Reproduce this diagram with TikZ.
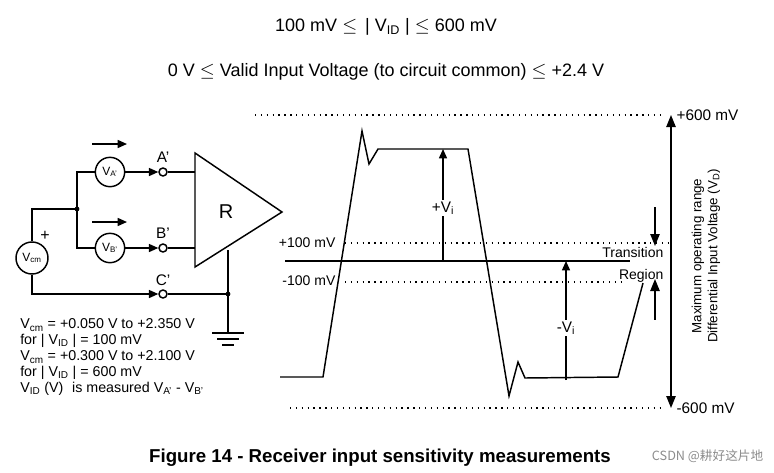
\documentclass[tikz,border=0pt]{standalone}
\usepackage{fontspec}
\setmainfont{Liberation Sans}
\newfontfamily\cjkf{Noto Sans CJK SC}
\usetikzlibrary{arrows.meta}
\begin{document}
\begin{tikzpicture}[x=0.75pt,y=-0.75pt,
  wire/.style={line width=1.1pt},
  dots/.style={line width=1.1pt,dash pattern=on 1pt off 3.4pt},
  tip/.style={-{Triangle[length=7pt,width=6pt]}},
  meter/.style={circle,draw,line width=1.1pt,minimum size=22pt,inner sep=0pt,font=\fontsize{9}{10}\selectfont},
  term/.style={circle,draw,line width=1.1pt,minimum size=6pt,inner sep=0pt},
  lbl/.style={font=\fontsize{10.5}{12}\selectfont,inner sep=1pt},
  txt/.style={font=\fontsize{10.7}{12}\selectfont,inner sep=0pt}]
\useasboundingbox (0,0) rectangle (774,472);
% top texts
\node[font=\fontsize{13.5}{15}\selectfont] (t1) at (386,27) {100 mV $\le$ \,| V\textsubscript{ID} | $\le$ 600 mV};
\node[font=\fontsize{13.5}{15}\selectfont] (t2) at (386,72) {0 V $\le$ Valid Input Voltage (to circuit common) $\le$ +2.4 V};
\node[font=\bfseries\fontsize{14}{16}\selectfont] (cap) at (380,458) {Figure 14 - Receiver input sensitivity measurements};
\node[font=\cjkf\fontsize{9.5}{11}\selectfont,text=black!45,anchor=east] (wm) at (768,456) {CSDN @耕好这片地};
% circuit
\node[meter] (va) at (110,172) {V\textsubscript{A'}};
\node[meter] (vb) at (110,248) {V\textsubscript{B'}};
\node[meter,minimum size=24pt] (vcm) at (32,258) {V\textsubscript{cm}};
\node[term] (ta) at (163,172) {};
\node[term] (tb) at (163,248) {};
\node[term] (tc) at (163,294) {};
\coordinate (j) at (77,209);
\coordinate (g) at (228,294);
\draw[wire] (vcm.north) |- (j);
\fill (j) circle (1.8pt);
\fill (g) circle (1.8pt);
\draw[wire] (va.west) -| (j) |- (vb.west);
\draw[wire,tip] (va.east) -- (ta.west);
\draw[wire,tip] (vb.east) -- (tb.west);
\draw[wire,tip] (vcm.south) |- (tc.west);
\coordinate (amp1) at (195,153); \coordinate (amp2) at (195,267); \coordinate (amp3) at (282,212);
\draw[wire] (amp1) -- (amp2) -- (amp3) -- cycle;
\node[font=\fontsize{15}{17}\selectfont] (R) at (226,212) {R};
\draw[wire] (ta.east) -- (195,172);
\draw[wire] (tb.east) -- (195,248);
\draw[wire] (tc.east) -- (g);
\coordinate (gt) at (228,250);
\coordinate (gb) at (228,333);
\draw[wire] (gt) -- (gb);
\draw[wire] (212,333) -- (244,333) (217,339) -- (239,339) (222,345) -- (234,345);
\coordinate (a1) at (92,144); \coordinate (a2) at (127,144);
\coordinate (b1) at (92,222); \coordinate (b2) at (127,222);
\draw[wire,tip] (a1) -- (a2);
\draw[wire,tip] (b1) -- (b2);
\node[lbl,font=\fontsize{11.5}{13}\selectfont] (la) at (163,157) {A'};
\node[lbl,font=\fontsize{11.5}{13}\selectfont] (lb) at (163,233) {B'};
\node[lbl,font=\fontsize{11.5}{13}\selectfont] (lc) at (163,280) {C'};
\node[lbl,font=\fontsize{12}{13}\selectfont] (plus) at (45,236) {+};
\node[txt,anchor=west] (x1) at (20,325) {V\textsubscript{cm} = +0.050 V to +2.350 V};
\node[txt,anchor=west] (x2) at (20,341) {for | V\textsubscript{ID} | = 100 mV};
\node[txt,anchor=west] (x3) at (20,357) {V\textsubscript{cm} = +0.300 V to +2.100 V};
\node[txt,anchor=west] (x4) at (20,373) {for | V\textsubscript{ID} | = 600 mV};
\node[txt,anchor=west] (x5) at (20,389) {V\textsubscript{ID} (V)\,\, is measured V\textsubscript{A'} - V\textsubscript{B'}};
% graph
\draw[dots] (255,115) -- (665,115);
\draw[dots] (290,408) -- (665,408);
\draw[dots] (345,243) -- (668,243);
\draw[dots] (345,282) -- (622,282);
\node[lbl,anchor=east] (p100) at (337,243) {+100 mV};
\node[lbl,anchor=east] (m100) at (337,281) {-100 mV};
\draw[wire] (285,261) -- (630,261);
\draw[wire] (280,377) -- (323,377) -- (362,131) -- (369,164) -- (378,149) -- (468,149) -- (509,396) -- (518,362) -- (525,378) -- (618,377) -- (643,283);
\coordinate (pv0) at (443,261); \coordinate (pv1) at (443,149);
\draw[wire,tip] (pv0) -- (pv1);
\node[lbl,fill=white,inner sep=1pt,font=\fontsize{11.5}{13}\selectfont] (pvl) at (443,208) {+V\textsubscript{i}};
\coordinate (mv0) at (566,380); \coordinate (mv1) at (566,261);
\draw[wire,tip] (mv0) -- (mv1);
\node[lbl,fill=white,inner sep=1pt,font=\fontsize{11.5}{13}\selectfont] (mvl) at (566,328) {-V\textsubscript{i}};
\coordinate (r1) at (671,115); \coordinate (r2) at (671,408);
\draw[wire,{Triangle[length=9pt,width=7pt]}-{Triangle[length=9pt,width=7pt]}] (r1) -- (r2);
\node[lbl,anchor=west,font=\fontsize{11.5}{13}\selectfont] (p600) at (675,115) {+600 mV};
\node[lbl,anchor=west,font=\fontsize{11.5}{13}\selectfont] (m600) at (675,408) {-600 mV};
\node[lbl,rotate=90,align=center,font=\fontsize{10}{12}\selectfont] (rot) at (706,256) {Maximum operating range\\Differential Input Voltage (V\textsubscript{D})};
\coordinate (s1) at (655,207); \coordinate (s2) at (655,246);
\draw[wire,{Triangle[length=9pt,width=7pt]}-] (s2) -- (s1);
\coordinate (u1) at (655,320); \coordinate (u2) at (655,279);
\draw[wire,{Triangle[length=9pt,width=7pt]}-] (u2) -- (u1);
\node[lbl,anchor=east] (tr) at (665,252) {Transition};
\node[lbl,anchor=east] (rg) at (665,276) {Region};
\end{tikzpicture}
\end{document}
